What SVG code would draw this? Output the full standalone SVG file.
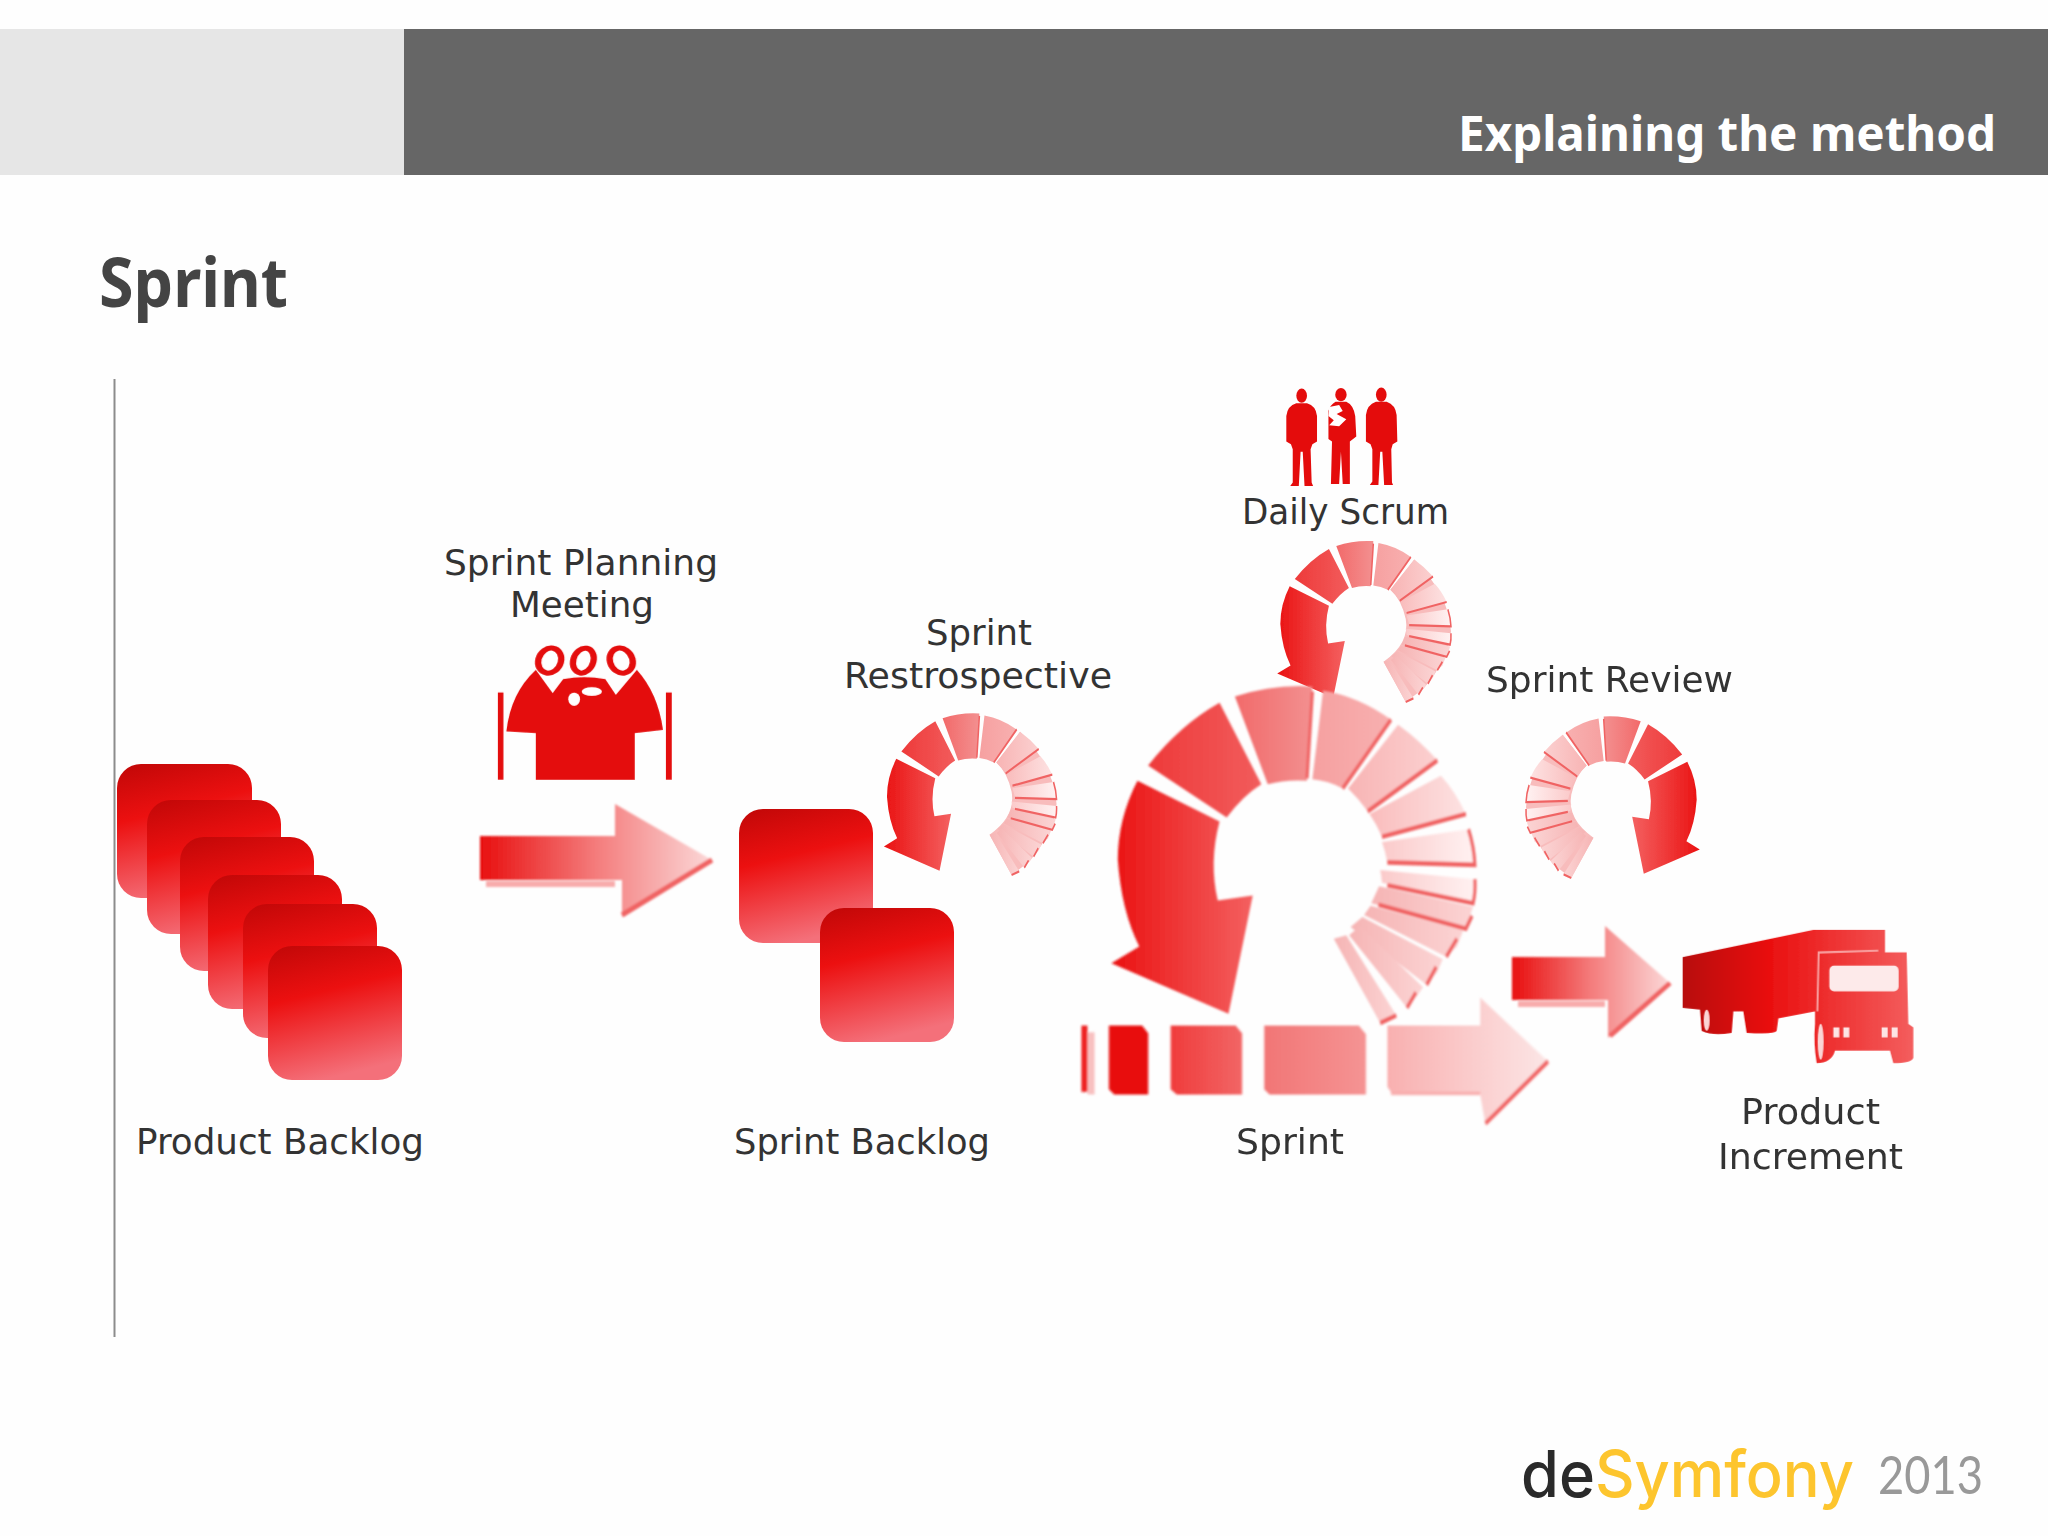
<svg xmlns="http://www.w3.org/2000/svg" xmlns:xlink="http://www.w3.org/1999/xlink" width="2048" height="1536" viewBox="0 0 2048 1536">
<style>
.lb{font-family:"DejaVu Sans",sans-serif;font-size:35px;fill:#333}
.hd{font-family:"Noto Sans",sans-serif;font-weight:bold}
.red{fill:#e40c0c}
.edge{fill:none;stroke:#f06464;stroke-width:9}
.shade{fill:none;stroke:#f8acac;stroke-width:6}
.sq{fill:url(#sq)}
.soft{filter:url(#soft)}
</style>
<defs>
<filter id="soft" x="-5%" y="-5%" width="110%" height="110%"><feGaussianBlur stdDeviation="0.8"/></filter>
<linearGradient id="sq" x1="0.15" y1="0" x2="0.4" y2="1"><stop offset="0" stop-color="#c40808"/><stop offset="0.38" stop-color="#ec1010"/><stop offset="1" stop-color="#f4707a"/></linearGradient>
<linearGradient id="a1"><stop offset="0" stop-color="#e80f0f"/><stop offset="0.5" stop-color="#f47c7c"/><stop offset="1" stop-color="#fbd8d8"/></linearGradient>
<linearGradient id="a2"><stop offset="0" stop-color="#f9b0b0"/><stop offset="1" stop-color="#fce6e6"/></linearGradient>
<linearGradient id="s1"><stop offset="0" stop-color="#ea1212"/><stop offset="1" stop-color="#f46060"/></linearGradient>
<linearGradient id="s2"><stop offset="0" stop-color="#ee3a3a"/><stop offset="1" stop-color="#f25c5c"/></linearGradient>
<linearGradient id="s3"><stop offset="0" stop-color="#f26a6a"/><stop offset="1" stop-color="#f39090"/></linearGradient>
<linearGradient id="s4"><stop offset="0" stop-color="#f6a0a0"/><stop offset="1" stop-color="#f8b0b0"/></linearGradient>
<linearGradient id="s5"><stop offset="0" stop-color="#f8b4b4"/><stop offset="1" stop-color="#fbd0d0"/></linearGradient>
<linearGradient id="s6"><stop offset="0" stop-color="#f9bcbc"/><stop offset="1" stop-color="#fde2e2"/></linearGradient>
<linearGradient id="s7"><stop offset="0" stop-color="#fbcaca"/><stop offset="1" stop-color="#fff2f2"/></linearGradient>
<linearGradient id="s8"><stop offset="0" stop-color="#f6b4b4"/><stop offset="1" stop-color="#fbd4d4"/></linearGradient>
<linearGradient id="t1"><stop offset="0" stop-color="#b80808"/><stop offset="0.38" stop-color="#ea1010"/><stop offset="1" stop-color="#f45e5e"/></linearGradient>
<linearGradient id="b1"><stop offset="0" stop-color="#f03c3c"/><stop offset="1" stop-color="#f26666"/></linearGradient>
<linearGradient id="b2"><stop offset="0" stop-color="#f27676"/><stop offset="1" stop-color="#f59494"/></linearGradient>
<g id="spiral" transform="translate(1000,360) scale(.357,.51)">
<path fill="url(#s1)" d="M385 825Q330 900 330 980Q340 1080 390 1150L312 1183L640 1282L708 1050L610 1060Q585 985 615 905Z"/>
<path fill="url(#s2)" d="M415 795Q505 715 615 672L732 832Q680 855 635 897Z"/>
<path fill="url(#s3)" d="M658 660Q765 635 875 640L860 825Q800 822 750 832Z"/>
<path fill="url(#s4)" d="M905 648Q1005 660 1095 705L960 840Q920 825 875 822Z"/>
<path fill="url(#s5)" d="M1115 715Q1175 745 1225 785L1030 885Q1005 860 975 840Z"/>
<path fill="url(#s6)" d="M1235 815Q1275 845 1305 890L1070 935Q1055 910 1035 890Z"/>
<path fill="url(#s7)" d="M1312 920Q1328 955 1330 990L1085 985Q1080 965 1070 945Z"/>
<path fill="url(#s7)" d="M1330 1018Q1332 1045 1325 1065L1070 1025Q1068 1010 1065 1000Z"/>
<path fill="url(#s8)" d="M1325 1072L1305 1115L1040 1065L1062 1032Z"/>
<path fill="url(#s8)" d="M1298 1118L1280 1150L1250 1170L1020 1088L1038 1070Z"/>
<path fill="url(#s8)" d="M1240 1175L1225 1200L1195 1225L982 1112L1015 1092Z"/>
<path fill="url(#s8)" d="M1185 1230L1170 1245L1140 1270L978 1128L1008 1110Z"/>
<path fill="url(#s8)" d="M935 1135L970 1128L1110 1285L1065 1300Z"/>
<path class="edge" d="M875 650L860 820M1095 705L960 840M1225 785L1030 885M1305 890L1070 935M1312 920Q1328 955 1330 990L1085 985M1330 1018Q1332 1045 1325 1065L1085 1030M1322 1090L1305 1115L1060 1068M1280 1135L1250 1170M1222 1190L1195 1225M1165 1240L1140 1270M1110 1285L1065 1300"/>
</g>
<path id="fan" fill="#f8bcbc" transform="translate(1000,360) scale(.357,.51)" d="M1115 715Q1320 860 1330 1010Q1320 1120 1170 1245L1065 1300L935 1135Q1090 1060 1065 960Q1040 880 975 840Z"/>
</defs>
<rect width="2048" height="1536" fill="#fefefe"/>
<g id="header">
<rect x="0" y="29" width="404" height="146" fill="#e6e6e6"/>
<rect x="404" y="29" width="1644" height="146" fill="#666"/>
<text class="hd" x="1458" y="151" font-size="48" fill="#fff" textLength="538" lengthAdjust="spacingAndGlyphs">Explaining the method</text>
<text class="hd" x="99" y="307" font-size="69" fill="#444" textLength="189" lengthAdjust="spacingAndGlyphs">Sprint</text>
<rect x="113.500" y="379" width="2" height="958" fill="#8c8c8c"/>
</g>
<g id="connectors" class="soft">
<path fill="url(#a1)" d="M480 836H615V804L712 860L622 917V880H480Z"/>
<path class="shade" d="M486 884H615"/>
<path class="edge" style="stroke-width:5" d="M622 915L712 860"/>
<path fill="url(#a1)" d="M1512 957H1605V926L1670 983L1608 1038V1000H1512Z"/>
<path class="shade" d="M1518 1004H1605"/>
<path class="edge" style="stroke-width:5" d="M1610 1036L1670 983"/>
</g>
<g id="product-backlog">
<rect class="sq" x="117" y="764" width="135" height="134" rx="24"/>
<rect class="sq" x="147" y="800" width="134" height="134" rx="24"/>
<rect class="sq" x="180" y="837" width="134" height="134" rx="24"/>
<rect class="sq" x="208" y="875" width="134" height="134" rx="24"/>
<rect class="sq" x="243" y="904" width="134" height="134" rx="24"/>
<rect class="sq" x="268" y="946" width="134" height="134" rx="24"/>
<text class="lb" x="136" y="1154" textLength="288" lengthAdjust="spacingAndGlyphs">Product Backlog</text>
</g>
<g id="sprint-planning">
<text class="lb" x="444" y="575" textLength="274" lengthAdjust="spacingAndGlyphs">Sprint Planning</text>
<text class="lb" x="510" y="617" textLength="144" lengthAdjust="spacingAndGlyphs">Meeting</text>
<g class="soft" transform="translate(420,520) scale(.421,.333)">
<path class="red" d="M275 450Q215 520 205 635L275 640V780H510V640L577 630Q565 520 515 450L465 525L440 478Q390 465 340 478L315 520Z"/>
<rect class="red" x="185" y="518" width="13" height="262"/>
<rect class="red" x="584" y="518" width="14" height="262"/>
<g fill="#fff" stroke="#e40c0c" stroke-width="15">
<ellipse cx="308" cy="422" rx="27" ry="38" transform="rotate(12 308 422)"/>
<ellipse cx="388" cy="422" rx="24" ry="38" transform="rotate(12 388 422)"/>
<ellipse cx="478" cy="422" rx="27" ry="38" transform="rotate(-12 478 422)"/>
</g>
<ellipse cx="366" cy="538" rx="14" ry="20" fill="#fff"/>
<ellipse cx="408" cy="515" rx="24" ry="13" fill="#fff"/>
</g>
</g>
<g id="sprint-backlog">
<rect class="sq" x="739" y="809" width="134" height="134" rx="24"/>
<rect class="sq" x="820" y="908" width="134" height="134" rx="24"/>
<text class="lb" x="734" y="1154" textLength="256" lengthAdjust="spacingAndGlyphs">Sprint Backlog</text>
</g>
<g id="sprint-retrospective">
<text class="lb" x="926" y="645" textLength="106" lengthAdjust="spacingAndGlyphs">Sprint</text>
<text class="lb" x="844" y="688" textLength="268" lengthAdjust="spacingAndGlyphs">Restrospective</text>
<g class="soft" transform="translate(356,384) scale(.475,.48)"><use xlink:href="#fan" href="#fan"/><use xlink:href="#spiral" href="#spiral"/></g>
</g>
<g id="daily-scrum">
<g class="red" transform="translate(1000,360) scale(.357,.51)">
<g transform="translate(845,0)"><ellipse cy="70" rx="15" ry="14"/><path d="M-15 85L15 85Q40 90 43 110L43 160L30 165L25 175L28 240L32 247L8 247L3 180L-3 180L-8 247L-32 247L-25 240L-25 175L-30 165L-43 160L-43 110Q-40 90-15 85Z"/></g>
<g transform="translate(955,0)"><ellipse cy="68" rx="16" ry="13"/><path d="M-15 82L15 82Q35 88 40 110L43 150L25 160L25 243L5 243L0 180L-5 243L-28 243L-25 160L-35 155L-35 100Q-30 88-15 82Z"/><path fill="#fff" d="M-33 92L-5 88L5 100L-12 106L15 116L-5 130L-33 128L-20 118L-35 110Z"/></g>
<g transform="translate(1068,0)"><ellipse cy="68" rx="15" ry="14"/><path d="M-15 82L15 82Q40 88 43 108L45 160L32 165L28 175L30 240L33 245L8 245L3 180L-3 180L-8 245L-32 245L-25 238L-25 175L-30 165L-43 160L-43 108Q-40 88-15 82Z"/></g>
</g>
<text class="lb" x="1242" y="524" textLength="207" lengthAdjust="spacingAndGlyphs">Daily Scrum</text>
<g class="soft" transform="translate(746,213) scale(.478,.478)"><use xlink:href="#fan" href="#fan"/><use xlink:href="#spiral" href="#spiral"/></g>
</g>
<g id="sprint">
<g class="soft"><use xlink:href="#spiral" href="#spiral"/>
<g transform="translate(1000,360) scale(.357,.51)">
<rect x="228" y="1305" width="17" height="130" fill="#ee2020"/>
<rect x="245" y="1318" width="20" height="122" fill="#f8c0c0"/>
<path fill="#e80f0f" d="M305 1305H398L415 1320V1440H320L305 1430Z"/>
<path fill="url(#b1)" d="M478 1305H660L678 1320V1440H495L478 1430Z"/>
<path fill="url(#b2)" d="M740 1305H1005L1025 1322V1440H755L740 1430Z"/>
<path fill="url(#a2)" d="M1085 1305H1345V1250L1535 1375L1360 1500L1345 1440H1100L1085 1425Z"/>
<path class="edge" d="M1360 1497L1535 1375"/>
<path class="shade" d="M1095 1438H1345"/>
</g></g>
<text class="lb" x="1236" y="1154" textLength="108" lengthAdjust="spacingAndGlyphs">Sprint</text>
</g>
<g id="sprint-review">
<text class="lb" x="1486" y="692" textLength="247" lengthAdjust="spacingAndGlyphs">Sprint Review</text>
<g class="soft" transform="translate(2231,387) scale(-.478,.48)"><use xlink:href="#fan" href="#fan"/><use xlink:href="#spiral" href="#spiral"/></g>
</g>
<g id="product-increment">
<g class="soft" transform="translate(1480,640) scale(.3333,.357)">
<path fill="url(#t1)" d="M608 888L1000 812H1215V875H1280L1285 1075L1300 1085V1170Q1295 1185 1240 1185L1230 1150H1065Q1055 1185 1010 1185Q1000 1130 1005 1075V1040L895 1060L890 1095Q885 1105 800 1100L790 1040H760L755 1100Q700 1110 665 1095L660 1035L608 1030Z"/>
<rect x="1048" y="912" width="208" height="72" rx="14" fill="#fdeaea"/>
<path fill="none" stroke="#f9a0a0" stroke-width="6" d="M1012 1040L1016 875L1195 870"/>
<ellipse cx="680" cy="1065" rx="9" ry="30" fill="#fbd5d5"/>
<ellipse cx="1022" cy="1125" rx="9" ry="50" fill="#fbd5d5"/>
<g fill="#fde5e5"><rect x="1060" y="1085" width="18" height="28"/><rect x="1090" y="1085" width="18" height="28"/><rect x="1205" y="1085" width="18" height="28"/><rect x="1235" y="1085" width="18" height="28"/></g>
</g>
<text class="lb" x="1741" y="1124" textLength="139" lengthAdjust="spacingAndGlyphs">Product</text>
<text class="lb" x="1718" y="1169" textLength="185" lengthAdjust="spacingAndGlyphs">Increment</text>
</g>
<g id="logo">
<text x="1521" y="1497" font-family="Inter,sans-serif" font-weight="500" font-size="64" textLength="333" lengthAdjust="spacingAndGlyphs"><tspan fill="#2a2a2a">de</tspan><tspan fill="#fdc52e">Symfony</tspan></text>
<text x="1878" y="1494" font-family="Lato,sans-serif" font-size="52" fill="#999" textLength="105" lengthAdjust="spacingAndGlyphs">2013</text>
</g>
</svg>
